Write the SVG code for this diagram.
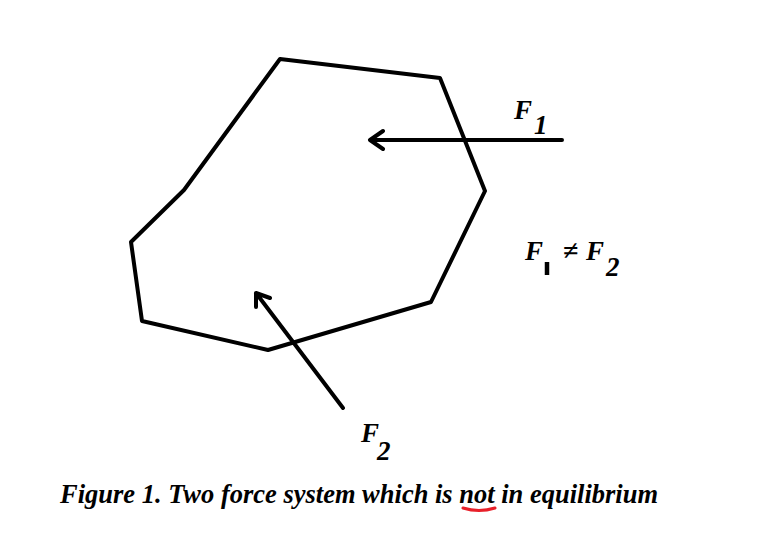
<svg xmlns="http://www.w3.org/2000/svg" width="765" height="544" viewBox="0 0 765 544">
<style>
.ln{fill:none;stroke:#000;stroke-width:4;stroke-linecap:round;stroke-linejoin:round}
.t{font-family:"Liberation Serif","Times New Roman",serif;font-weight:bold;font-style:italic;fill:#000}
</style>
<rect width="765" height="544" fill="#fff"/>
<g id="body">
<polygon class="ln" points="280,59 440,78 485,191 431,302 268,350 142,321 131,242 184,190"/>
</g>
<g id="connectors">
<path class="ln" d="M562,140 L370,140 M383,131 L370,140 L383,149"/>
<path class="ln" d="M343,408 L256,293 M256,307 L256,293 L270,298"/>
</g>
<g id="F1-label">
<text class="t" x="514" y="119" font-size="27">F</text>
<text class="t" x="534" y="134" font-size="27">1</text>
</g>
<g id="F2-label">
<text class="t" x="361" y="442" font-size="27">F</text>
<text class="t" x="377" y="460" font-size="27">2</text>
</g>
<g id="inequality">
<text class="t" x="525" y="260" font-size="27">F</text>
<line x1="547" y1="262" x2="547" y2="275" stroke="#000" stroke-width="4.5"/>
<text class="t" x="563" y="260" font-size="28">≠</text>
<text class="t" x="586" y="260" font-size="27">F</text>
<text class="t" x="606" y="276" font-size="27">2</text>
</g>
<g id="caption">
<text class="t" x="60" y="503" font-size="27.5" textLength="598" lengthAdjust="spacingAndGlyphs">Figure 1. Two force system which is not in equilibrium</text>
<path d="M463,508 Q479,513 495,508" fill="none" stroke="#e8202a" stroke-width="3" stroke-linecap="round"/>
</g>
</svg>
